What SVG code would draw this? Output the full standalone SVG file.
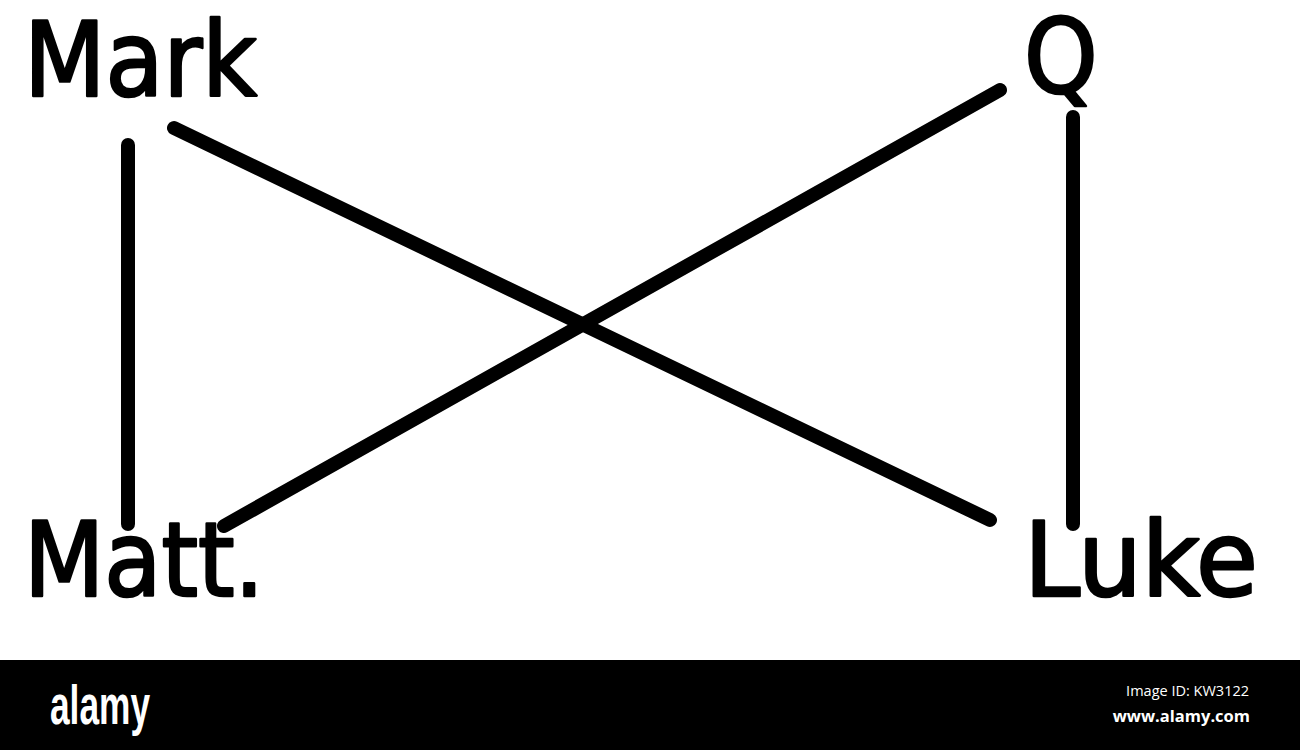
<svg xmlns="http://www.w3.org/2000/svg" width="1300" height="750" viewBox="0 0 1300 750">
<style>
.lbl{font-family:"DejaVu Sans Condensed","DejaVu Sans",sans-serif;font-size:104px;fill:#000;stroke:#000;stroke-width:2.5;stroke-linejoin:round}
.edge{stroke:#000;stroke-width:14;stroke-linecap:round;fill:none}
</style>
<rect width="1300" height="750" fill="#fff"/>
<g id="connectors">
<line class="edge" x1="128" y1="145" x2="128" y2="524"/>
<line class="edge" x1="174" y1="128" x2="990" y2="520"/>
<line class="edge" x1="1000" y1="90" x2="224" y2="526"/>
<line class="edge" x1="1073" y1="117" x2="1073" y2="524"/>
</g>
<g id="node-mark"><text class="lbl" x="24" y="96" textLength="233" lengthAdjust="spacingAndGlyphs">Mark</text></g>
<g id="node-matt"><text class="lbl" x="24" y="596" textLength="240" lengthAdjust="spacingAndGlyphs">Matt.</text></g>
<g id="node-q"><text class="lbl" x="1024" y="93">Q</text></g>
<g id="node-luke"><text class="lbl" x="1024" y="596" textLength="234" lengthAdjust="spacingAndGlyphs">Luke</text></g>
<g id="footer">
<rect x="0" y="660" width="1300" height="90" fill="#000"/>
<text x="50" y="724" font-family="Liberation Sans Narrow,Liberation Sans,sans-serif" font-weight="bold" font-size="56" fill="#fff" textLength="100" lengthAdjust="spacingAndGlyphs">alamy</text>
<text x="1249" y="696" text-anchor="end" font-family="Open Sans,sans-serif" font-size="14.5" fill="#fff">Image ID: KW3122</text>
<text x="1250" y="722" text-anchor="end" font-family="Open Sans,sans-serif" font-weight="bold" font-size="16.5" fill="#fff">www.alamy.com</text>
</g>
</svg>
